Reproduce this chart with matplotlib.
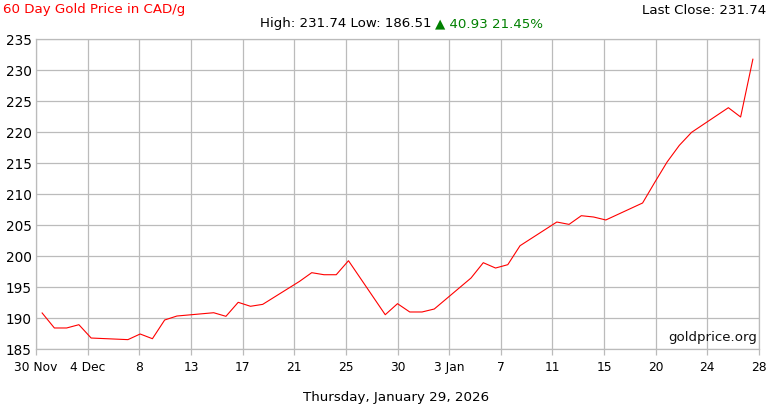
import pandas as pd
import numpy as np
import matplotlib
matplotlib.use('Agg')
import matplotlib.pyplot as plt

# closing price per day, CAD per gram
dates = ['2025-11-30', '2025-12-01', '2025-12-02', '2025-12-03', '2025-12-04',
         '2025-12-07', '2025-12-08', '2025-12-09', '2025-12-10', '2025-12-11',
         '2025-12-14', '2025-12-15', '2025-12-16', '2025-12-17', '2025-12-18',
         '2025-12-21', '2025-12-22', '2025-12-23', '2025-12-24', '2025-12-25',
         '2025-12-28', '2025-12-29', '2025-12-30', '2025-12-31', '2026-01-01',
         '2026-01-04', '2026-01-05', '2026-01-06', '2026-01-07', '2026-01-08',
         '2026-01-11', '2026-01-12', '2026-01-13', '2026-01-14', '2026-01-15',
         '2026-01-18', '2026-01-19', '2026-01-20', '2026-01-21', '2026-01-22',
         '2026-01-25', '2026-01-26', '2026-01-27']
prices = [190.81, 188.39, 188.39, 188.92, 186.77,
          186.51, 187.42, 186.66, 189.68, 190.32,
          190.85, 190.27, 192.53, 191.89, 192.20,
          195.90, 197.31, 196.98, 196.98, 199.24,
          190.53, 192.31, 190.97, 190.97, 191.45,
          196.45, 198.92, 198.06, 198.60, 201.66,
          205.48, 205.10, 206.50, 206.29, 205.81,
          208.55, 211.90, 215.16, 217.85, 219.95,
          223.92, 222.42, 231.74]

x_labels = ['30 Nov', '4 Dec', '8', '13', '17', '21', '25', '30',
            '3 Jan', '7', '11', '15', '20', '24', '28']
y_ticks = [185, 190, 195, 200, 205, 210, 215, 220, 225, 230, 235]

high = max(prices)
low = min(prices)
change = prices[-1] - prices[0]
pct = change / prices[0] * 100

x = pd.to_datetime(dates) + pd.Timedelta(hours=12)
start = pd.Timestamp('2025-11-30')
end = pd.Timestamp('2026-01-28')

W, H = 770, 410
fig = plt.figure(figsize=(W / 100, H / 100), dpi=100)
ax = fig.add_axes([36 / W, 60 / H, 723 / W, 310 / H])

ax.plot(x, prices, color='#ff0000', lw=0.8)

ax.set_ylim(185, 235)
ax.set_yticks(y_ticks)
ax.set_xlim(start, end)
xt = pd.to_datetime(np.linspace(start.value, end.value, len(x_labels)))
ax.set_xticks(xt)
ax.set_xticklabels(x_labels)

ax.grid(True, color='#bbbbbb', lw=0.9)
for s in ax.spines.values():
    s.set_color('#bbbbbb')
    s.set_linewidth(0.9)
ax.tick_params(axis='y', length=0, pad=3, labelsize=9.8)
ax.tick_params(axis='x', length=4.5, width=0.9, color='#bbbbbb', pad=3.2, labelsize=8.8)

ax.text(0.998, 0.02, 'goldprice.org', transform=ax.transAxes, ha='right', va='bottom',
        fontsize=9.6, color='#111111')

fs = 9.6
fig.text(3 / W, 1 - 9 / H, '60 Day Gold Price in CAD/g', color='#ff0000',
         fontsize=fs, ha='left', va='center')
fig.text(766 / W, 1 - 11 / H, 'Last Close: %.2f' % prices[-1], fontsize=fs,
         ha='right', va='center')
fig.text(431 / W, 1 - 24 / H, 'High: %.2f Low: %.2f' % (high, low), fontsize=fs,
         ha='right', va='center')
fig.text(435 / W, 1 - 24 / H, '\u25b2 %.2f %.2f%%' % (change, pct), fontsize=fs,
         color='#008000', ha='left', va='center')
fig.text(396 / W, 1 - 398 / H, 'Thursday, January 29, 2026', fontsize=fs,
         ha='center', va='center')

fig.savefig('out.png', dpi=100)
